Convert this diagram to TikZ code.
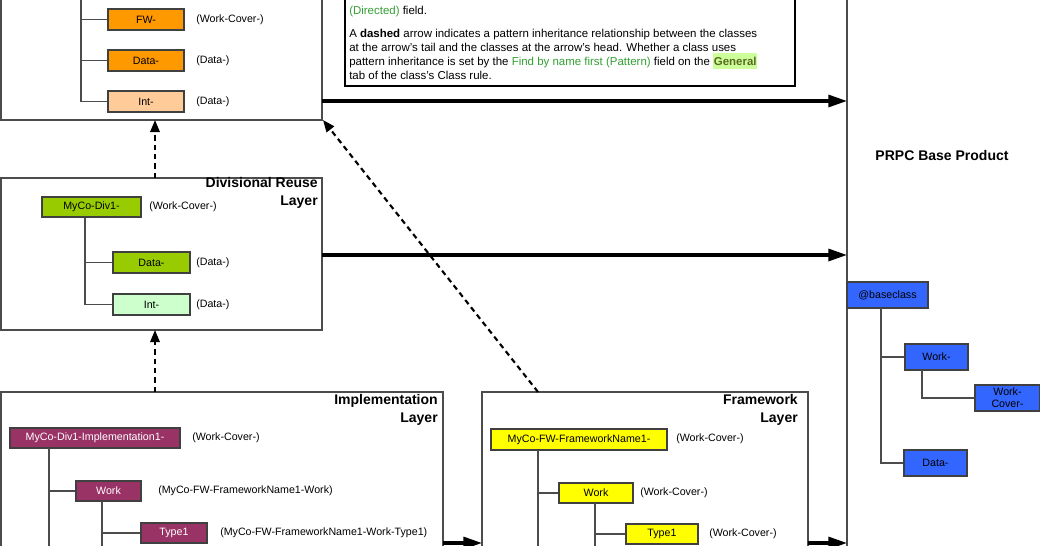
\documentclass[tikz,border=0pt]{standalone}
\usepackage{fontspec}
\setmainfont{Liberation Sans}
\usetikzlibrary{arrows.meta}
\definecolor{ora}{HTML}{FF9900}
\definecolor{lora}{HTML}{FFCC99}
\definecolor{grn}{HTML}{99CC00}
\definecolor{lgrn}{HTML}{CCFFCC}
\definecolor{pur}{HTML}{993366}
\definecolor{yel}{HTML}{FFFF00}
\definecolor{blu}{HTML}{3366FF}
\definecolor{gtxt}{HTML}{33A033}
\definecolor{hl}{HTML}{CCFF99}
\definecolor{olive}{HTML}{5A6A20}
\newcommand{\cbox}[7]{\node[cls,fill=#6,minimum width={#4*0.75pt},minimum height={#5*0.75pt}] (#1) at ({#2+#4/2},{#3+#5/2}) {#7};}
\begin{document}
\begin{tikzpicture}[x=0.75pt,y=-0.75pt,
  cls/.style={draw=black!75,line width=0.8pt,inner sep=0pt,font=\fontsize{8}{9}\selectfont,align=center},
  lbl/.style={anchor=west,inner sep=0pt,font=\fontsize{8}{9}\selectfont},
  layer/.style={draw=black!70,line width=0.8pt,fill=white},
  ttl/.style={anchor=north east,align=right,inner sep=0pt,font=\bfseries\fontsize{10.5}{13.5}\selectfont},
  tree/.style={draw=black!70,line width=0.8pt},
  big/.style={line width=2.4pt,-{Triangle[length=14pt,width=9pt]}},
  dsh/.style={line width=1.6pt,dash pattern=on 4pt off 3pt,-{Triangle[length=9pt,width=7pt]}},
  info/.style={anchor=base west,inner sep=0pt,font=\fontsize{8.6}{10}\selectfont}]
\useasboundingbox (0,0) rectangle (1040,546);
% layers
\draw[layer] (1,-5) rectangle (322,120);
\draw[layer] (1,178) rectangle (322,330);
\draw[layer] (1,392) rectangle (443,550);
\draw[layer] (482,392) rectangle (808,550);
\draw[layer] (847,-5) rectangle (1045,550);
\draw[layer,draw=black] (345,-5) rectangle (795,86);
% info text
\node[info] (i0) at (349,15) {\textcolor{gtxt}{(Directed)} field.};
\node[info] (i1) at (349,37) {A \textbf{dashed} arrow indicates a pattern inheritance relationship between the classes};
\node[info] (i2) at (349,51) {at the arrow’s tail and the classes at the arrow’s head. Whether a class uses};
\node[info] (i3) at (349,65) {pattern inheritance is set by the \textcolor{gtxt}{Find by name first (Pattern)} field on the \colorbox{hl}{\kern-2.5pt\textcolor{olive}{\textbf{General}}\kern-2.5pt}};
\node[info] (i4) at (349,79) {tab of the class’s Class rule.};
% titles
\node[ttl] (t1) at (318,177) {Divisional Reuse\\Layer};
\node[ttl] (t2) at (438,394) {Implementation\\Layer};
\node[ttl] (t3) at (798,394) {Framework\\Layer};
\node[font=\bfseries\fontsize{10.5}{12}\selectfont] (t4) at (942,155) {PRPC Base Product};
% top layer
\coordinate (tt) at (81,-5);
\cbox{fw}{108}{9}{76}{21}{ora}{FW-}
\cbox{td}{108}{50}{76}{21}{ora}{Data-}
\cbox{ti}{108}{91}{76}{21}{lora}{Int-}
\draw[tree] (tt) |- (ti.west);
\draw[tree] (tt |- fw) -- (fw.west);
\draw[tree] (tt |- td) -- (td.west);
\node[lbl] (lfw) at (196,19.5) {(Work-Cover-)};
\node[lbl] (ltd) at (196,60.5) {(Data-)};
\node[lbl] (lti) at (196,101.5) {(Data-)};
% divisional
\cbox{d1}{42}{197}{99}{20}{grn}{MyCo-Div1-}
\cbox{dd}{113}{252}{77}{21}{grn}{Data-}
\cbox{di}{113}{294}{77}{21}{lgrn}{Int-}
\draw[tree] (d1.south -| 85,0) |- (di.west);
\draw[tree] (85,262.5) -- (dd.west);
\node[lbl] (ld1) at (149,207) {(Work-Cover-)};
\node[lbl] (ldd) at (196,262.5) {(Data-)};
\node[lbl] (ldi) at (196,304.5) {(Data-)};
% implementation
\cbox{m1}{10}{428}{170}{20}{pur}{\textcolor{white}{MyCo-Div1-Implementation1-}}
\cbox{mw}{76}{481}{65}{20}{pur}{\textcolor{white}{Work}}
\cbox{mt}{141}{523}{66}{20}{pur}{\textcolor{white}{Type1}}
\draw[tree] (49,448) -- (49,550);
\draw[tree] (49,491) -- (mw.west);
\draw[tree] (102,501) -- (102,550);
\draw[tree] (102,533) -- (mt.west);
\node[lbl] (lm1) at (192,438) {(Work-Cover-)};
\node[lbl] (lmw) at (158,491) {(MyCo-FW-FrameworkName1-Work)};
\node[lbl] (lmt) at (220,533) {(MyCo-FW-FrameworkName1-Work-Type1)};
% framework
\cbox{f1}{491}{429}{176}{21}{yel}{MyCo-FW-FrameworkName1-}
\cbox{fwk}{559}{483}{74}{20}{yel}{Work}
\cbox{ft}{626}{524}{72}{20}{yel}{Type1}
\draw[tree] (538,450) -- (538,550);
\draw[tree] (538,493) -- (fwk.west);
\draw[tree] (595,503) -- (595,550);
\draw[tree] (595,534) -- (ft.west);
\node[lbl] (lf1) at (676,439) {(Work-Cover-)};
\node[lbl] (lfw2) at (640,493) {(Work-Cover-)};
\node[lbl] (lft) at (709,534) {(Work-Cover-)};
% PRPC
\cbox{b0}{847}{282}{81}{26}{blu}{@baseclass}
\cbox{bw}{905}{344}{63}{26}{blu}{Work-}
\cbox{bc}{975}{385}{65}{26}{blu}{Work-\\Cover-}
\cbox{bd}{904}{450}{63}{26}{blu}{Data-}
\draw[tree] (881,308) |- (bd.west);
\draw[tree] (881,357) -- (bw.west);
\draw[tree] (922,370) |- (bc.west);
% arrows
\coordinate (a1) at (322,101); \coordinate (b1) at (847,101);
\coordinate (a2) at (322,255); \coordinate (b2) at (847,255);
\coordinate (a3) at (443,543); \coordinate (b3) at (482,543);
\coordinate (a4) at (808,543); \coordinate (b4) at (847,543);
\draw[big] (a1) -- (b1);
\draw[big] (a2) -- (b2);
\draw[big] (a3) -- (b3);
\draw[big] (a4) -- (b4);
\coordinate (c1) at (155,178); \coordinate (e1) at (155,120);
\coordinate (c2) at (155,392); \coordinate (e2) at (155,330);
\coordinate (c3) at (538,392); \coordinate (e3) at (323,120);
\draw[dsh] (c1) -- (e1);
\draw[dsh] (c2) -- (e2);
\draw[dsh] (c3) -- (e3);
\end{tikzpicture}
\end{document}
